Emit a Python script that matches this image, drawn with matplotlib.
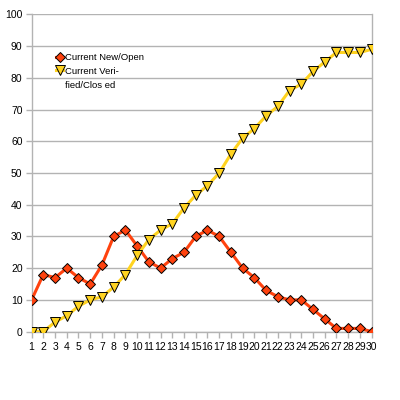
import matplotlib
matplotlib.use('Agg')
import matplotlib.pyplot as plt
from matplotlib.lines import Line2D
import numpy as np

plt.rcParams['font.family'] = ['Liberation Sans', 'DejaVu Sans']

days = list(range(1, 31))
new_open = [10, 18, 17, 20, 17, 15, 21, 30, 32, 27, 22, 20, 23, 25, 30,
            32, 30, 25, 20, 17, 13, 11, 10, 10, 7, 4, 1, 1, 1, 0]
verified_closed = [0, 0, 3, 5, 8, 10, 11, 14, 18, 24, 29, 32, 34, 39, 43,
                   46, 50, 56, 61, 64, 68, 71, 76, 78, 82, 85, 88, 88, 88, 89]
labels = ['Current New/Open', 'Current Veri-', 'fied/Clos ed']

red = '#ff420e'
yellow = '#ffd320'
grey = '#b3b3b3'

fig = plt.figure(figsize=(4, 4), dpi=100)
ax = fig.add_axes([0.079, 0.171, 0.85, 0.793])

l1, = ax.plot(days, new_open, color=red, lw=2.2, marker='D', markersize=4.8,
              markerfacecolor=red, markeredgecolor='black', markeredgewidth=0.7,
              zorder=3)
l2, = ax.plot(days, verified_closed, color=yellow, lw=2.2, marker='v', markersize=6.5,
              markerfacecolor=yellow, markeredgecolor='black', markeredgewidth=0.7,
              zorder=3)
# second label wraps onto a line with no key
blank = Line2D([], [], linestyle='none', marker='none')

ax.set_xlim(1, 30)
ax.set_ylim(0, 100)
ax.set_xticks(days)
ax.set_xticklabels([str(d) for d in days])
ax.set_yticks(np.arange(0, 101, 10))

ax.grid(axis='y', color=grey, lw=1)
ax.set_axisbelow(True)
for side in ['left', 'right', 'bottom']:
    ax.spines[side].set_color(grey)
    ax.spines[side].set_linewidth(1)
ax.spines['top'].set_visible(False)
ax.tick_params(axis='both', colors=grey, length=4, width=1, labelsize=7.5,
               labelcolor='black')
ax.tick_params(axis='x', pad=3.5)
ax.tick_params(axis='y', pad=2.5)

leg = ax.legend([l1, l2, blank], labels, loc='upper left',
                bbox_to_anchor=(0.06, 0.89), frameon=False,
                fontsize=6.8, handlelength=0.8, handletextpad=0.2,
                labelspacing=0.5, borderaxespad=0)

fig.savefig('out.png', dpi=100)
